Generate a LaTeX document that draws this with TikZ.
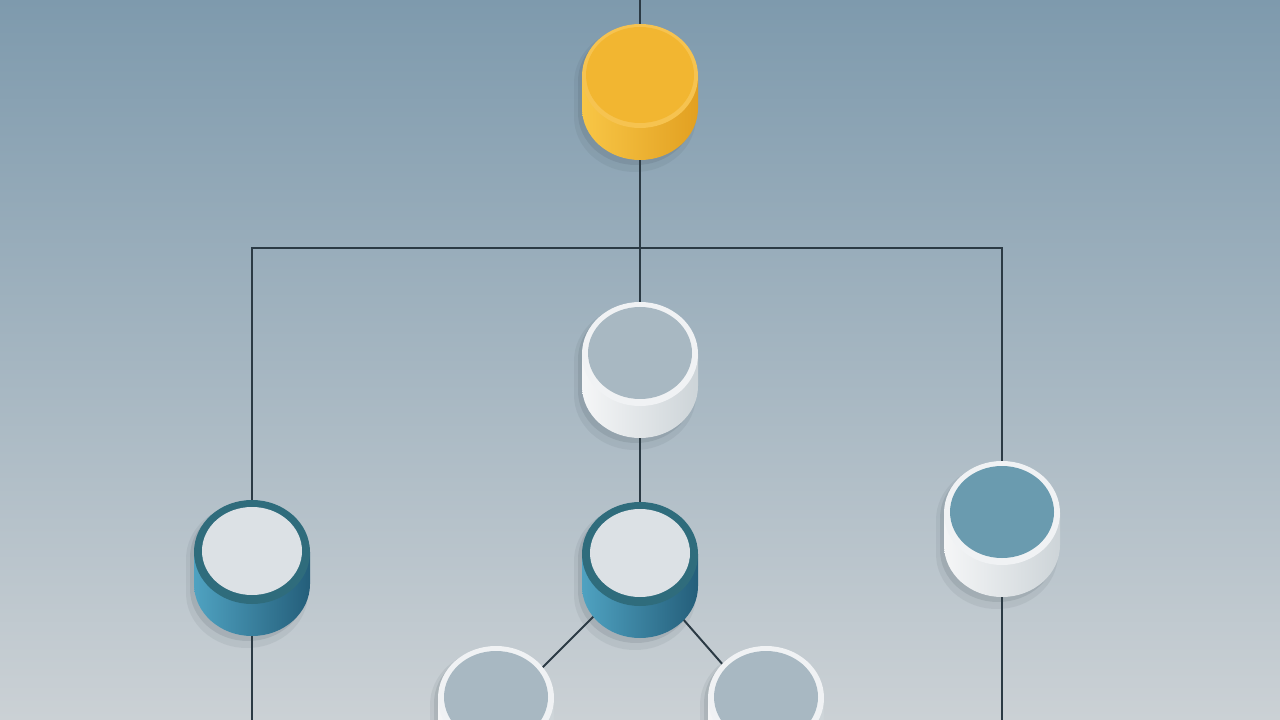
\documentclass[tikz,border=0pt]{standalone}
\usepackage{xcolor}
\usepackage{tikz}
\usetikzlibrary{positioning}
\definecolor{bgtop}{HTML}{7E9AAD}
\definecolor{bgbot}{HTML}{CBD1D5}
\definecolor{wire}{HTML}{2B3A44}
\definecolor{goldrim}{HTML}{F6C350}
\definecolor{goldface}{HTML}{F2B631}
\definecolor{goldlight}{HTML}{F8C646}
\definecolor{golddark}{HTML}{E2A021}
\definecolor{tealrim}{HTML}{2F6C7C}
\definecolor{teallight}{HTML}{4FA2C1}
\definecolor{tealdark}{HTML}{245E7A}
\definecolor{paleface}{HTML}{DCE1E5}
\definecolor{greyface}{HTML}{A8B8C2}
\definecolor{snowrim}{HTML}{F0F2F4}
\definecolor{snowlight}{HTML}{F5F6F7}
\definecolor{snowdark}{HTML}{CDD4D8}
\definecolor{blueface}{HTML}{6A9BAF}
\definecolor{shadowc}{HTML}{35434C}

\pgfdeclarelayer{back}
\pgfdeclarelayer{wires}
\pgfsetlayers{back,wires,main}

% puck: name, x, y (top face centre), side left, side right, rim, face, rim width
\newcommand{\drawpuck}[8]{%
  \fill[shadowc, opacity=.08] (#2-66,#3+7) arc[start angle=180,end angle=360,x radius=61,y radius=55]
    -- ++(0,34) arc[start angle=0,end angle=180,x radius=61,y radius=55] -- cycle;
  \fill[shadowc, opacity=.12] (#2-62,#3+5) arc[start angle=180,end angle=360,x radius=58,y radius=52]
    -- ++(0,32) arc[start angle=0,end angle=180,x radius=58,y radius=52] -- cycle;
  \shade[left color=#4, right color=#5] (#2-58,#3) -- ++(0,32)
    arc[start angle=180,end angle=0,x radius=58,y radius=52] -- (#2+58,#3) -- cycle;
  \fill[#6] (#2,#3) ellipse[x radius=58,y radius=52];
  \fill[#7] (#2,#3-1) ellipse[x radius=58-#8,y radius=52-#8];
  \node[puckhit] (#1) at (#2,#3+16) {};
}

\begin{document}
\begin{tikzpicture}[x=0.025cm, y=-0.025cm]
    \tikzset{puckhit/.style={inner sep=0pt, minimum width=2.9cm, minimum height=3.4cm}}
    \tikzset{link/.style={draw=wire, line width=1.4pt}}

    \useasboundingbox (0,0) rectangle (1280,720);
    \clip (0,0) rectangle (1280,720);
    \begin{pgfonlayer}{back}
        \shade[top color=bgtop, bottom color=bgbot] (0,0) rectangle (1280,720);
    \end{pgfonlayer}

    \drawpuck{root}{640}{76}{goldlight}{golddark}{goldrim}{goldface}{4}
    \drawpuck{mid}{640}{354}{snowlight}{snowdark}{snowrim}{greyface}{6}
    \drawpuck{right}{1002}{513}{snowlight}{snowdark}{snowrim}{blueface}{6}
    \drawpuck{lead}{252}{552}{teallight}{tealdark}{tealrim}{paleface}{8}
    \drawpuck{core}{640}{554}{teallight}{tealdark}{tealrim}{paleface}{8}
    \drawpuck{leafl}{496}{698}{snowlight}{snowdark}{snowrim}{greyface}{6}
    \drawpuck{leafr}{766}{698}{snowlight}{snowdark}{snowrim}{greyface}{6}

    \coordinate (topend) at (640,0);
    \coordinate (hub) at (640,248);
    \coordinate (leftend) at (252,720);
    \coordinate (rightend) at (1002,720);

    \begin{pgfonlayer}{wires}
        \draw [link] (topend) -- (root.center);
        \draw [link] (root.center) -- (hub);
        \draw [link] (lead.center) |- (hub) -| (right.center);
        \draw [link] (hub) -- (mid.center);
        \draw [link] (mid.center) -- (core.center);
        \draw [link] (core.center) -- (leafl.center);
        \draw [link] (core.center) -- (leafr.center);
        \draw [link] (lead.center) -- (leftend);
        \draw [link] (right.center) -- (rightend);
    \end{pgfonlayer}
\end{tikzpicture}
\end{document}
